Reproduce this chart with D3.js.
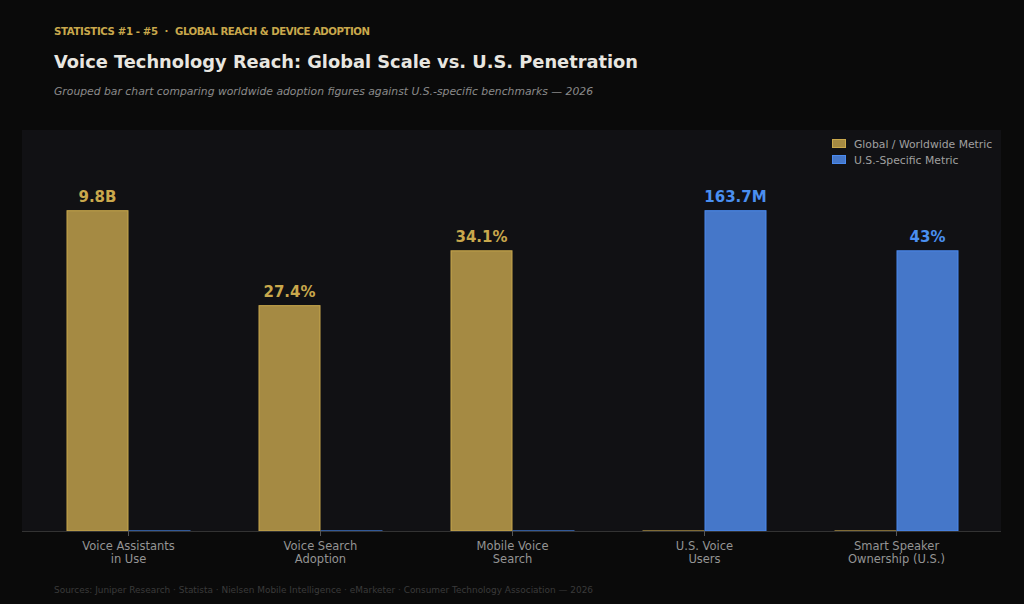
<!DOCTYPE html>
<html>
<head>
<meta charset="utf-8">
<script src="https://cdn.jsdelivr.net/npm/d3@7/dist/d3.min.js"></script>
<style>
html,body{margin:0;padding:0;background:#0a0a0a;}
svg{display:block;font-family:"DejaVu Sans",sans-serif;}
</style>
</head>
<body>
<svg id="chart" width="1024" height="604"></svg>
<script>
const categories = [["Voice Assistants","in Use"],["Voice Search","Adoption"],["Mobile Voice","Search"],["U.S. Voice","Users"],["Smart Speaker","Ownership (U.S.)"]];
const seriesNames = ["Global / Worldwide Metric","U.S.-Specific Metric"];
// plotted index values (relative bar heights)
const globalValues = [100, 70.4, 87.5, 0, 0];
const usValues = [0, 0, 0, 100, 87.5];
const globalLabels = ["9.8B","27.4%","34.1%","",""];
const usLabels = ["","","","163.7M","43%"];

const svg = d3.select("#chart");
const colors = {gFill:"#a58a43", gStroke:"#c9a84c", gText:"#c9a84c", uFill:"#4577c9", uStroke:"#4a8af0", uText:"#4a8ff0"};

// header
const ovParts = [{x:54, w:104, t:"STATISTICS #1 - #5"}, {x:175, w:195, t:"GLOBAL REACH & DEVICE ADOPTION"}];
ovParts.forEach(p=>svg.append("text").attr("x",p.x).attr("y",35).attr("fill","#c9a84c").attr("font-size",10.2).attr("font-weight","bold")
  .attr("textLength",p.w).attr("lengthAdjust","spacing").text(p.t));
svg.append("text").attr("x",166.5).attr("y",35).attr("text-anchor","middle").attr("fill","#c9a84c").attr("font-size",10.2).attr("font-weight","bold").text("·");
svg.append("text").attr("x",54).attr("y",68).attr("fill","#e8e6e0").attr("font-size",18).attr("font-weight","bold")
  .attr("textLength",584).attr("lengthAdjust","spacingAndGlyphs")
  .text("Voice Technology Reach: Global Scale vs. U.S. Penetration");
svg.append("text").attr("x",54).attr("y",95).attr("fill","#8a8a8a").attr("font-size",11).attr("font-style","italic")
  .attr("textLength",539).attr("lengthAdjust","spacingAndGlyphs")
  .text("Grouped bar chart comparing worldwide adoption figures against U.S.-specific benchmarks — 2026");

// panel
const panel = {x0:22, x1:1001, y0:130, y1:531};
svg.append("rect").attr("x",panel.x0).attr("y",panel.y0).attr("width",panel.x1-panel.x0).attr("height",panel.y1-panel.y0).attr("fill","#111114");

const x = d3.scaleBand().domain(d3.range(categories.length)).range([32,992]);
const xs = d3.scaleBand().domain([0,1]).range([0, 124]);
const y = d3.scaleLinear().domain([0,125]).range([panel.y1, panel.y0]);

const groups = svg.append("g").selectAll("g").data(categories).join("g")
  .attr("transform",(d,i)=>`translate(${x(i)+x.bandwidth()/2-61.5},0)`);

function drawSeries(values, labels, k, fill, stroke, txt){
  groups.each(function(d,i){
    const g = d3.select(this), v = values[i];
    if (v > 0) {
      g.append("rect").attr("x",xs(k)+0.5).attr("width",xs.bandwidth()-1)
        .attr("y",y(v)+0.5).attr("height",y(0)-y(v)-0.5)
        .attr("fill",fill).attr("stroke",stroke).attr("stroke-width",1);
      g.append("text").attr("x",xs(k)+xs.bandwidth()/2).attr("y",y(v)-8)
        .attr("text-anchor","middle").attr("fill",txt).attr("font-size",15).attr("font-weight","bold")
        .text(labels[i]);
    } else {
      g.append("line").attr("x1",xs(k)).attr("x2",xs(k)+xs.bandwidth())
        .attr("y1",y(0)-0.5).attr("y2",y(0)-0.5).attr("stroke",stroke).attr("stroke-opacity",0.6).attr("stroke-width",1);
    }
  });
}
drawSeries(globalValues, globalLabels, 0, colors.gFill, colors.gStroke, colors.gText);
drawSeries(usValues, usLabels, 1, colors.uFill, colors.uStroke, colors.uText);

// axis
svg.append("line").attr("x1",panel.x0).attr("x2",panel.x1).attr("y1",panel.y1+0.5).attr("y2",panel.y1+0.5).attr("stroke","#333");
const axis = d3.axisBottom(x).tickSize(5).tickFormat(()=>"");
const ax = svg.append("g").attr("transform",`translate(0,${panel.y1})`).call(axis);
ax.select(".domain").remove();
ax.selectAll(".tick line").attr("stroke","#555").attr("transform","translate(0.5,0)");
ax.selectAll(".tick").each(function(d){
  const t = d3.select(this).append("text").attr("fill","#949494").attr("font-size",11.5).attr("text-anchor","middle").attr("font-family","DejaVu Sans, sans-serif");
  categories[d].forEach((l,k)=>t.append("tspan").attr("x",0.5).attr("y",19+k*13).text(l));
});

// legend
const lg = svg.append("g").attr("transform","translate(832,139)");
seriesNames.forEach((n,i)=>{
  lg.append("rect").attr("x",0.5).attr("y",i*16+0.5).attr("width",13).attr("height",8)
    .attr("fill",i?colors.uFill:colors.gFill).attr("stroke",i?colors.uStroke:colors.gStroke);
  lg.append("text").attr("x",22).attr("y",i*16+9).attr("fill","#a0a0a0").attr("font-size",10.8).text(n);
});

// footer
svg.append("text").attr("x",54).attr("y",593).attr("fill","#3a3a3a").attr("font-size",9)
  .attr("textLength",539).attr("lengthAdjust","spacingAndGlyphs")
  .text("Sources: Juniper Research · Statista · Nielsen Mobile Intelligence · eMarketer · Consumer Technology Association — 2026");
</script>
</body>
</html>
